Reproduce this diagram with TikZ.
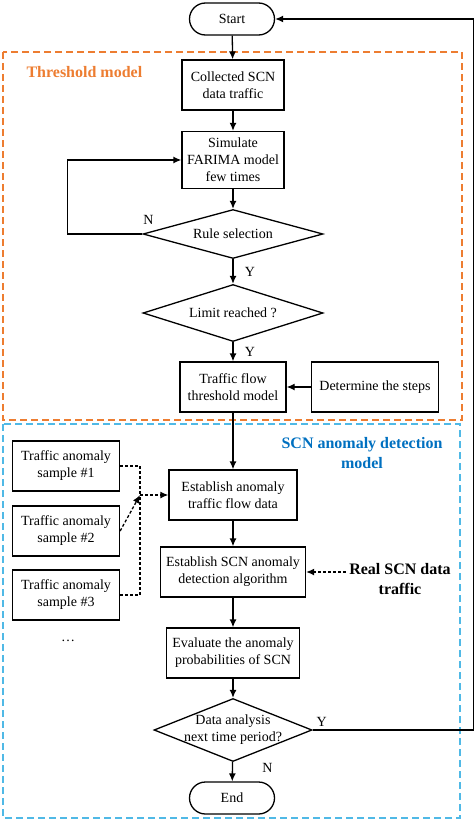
\documentclass[tikz,border=0pt]{standalone}
\usepackage{fontspec}
\setmainfont{Liberation Serif}
\usetikzlibrary{shapes.geometric, arrows.meta}
\definecolor{throrange}{RGB}{237,125,49}
\definecolor{scnblue}{RGB}{0,112,192}
\definecolor{scnframe}{RGB}{80,185,230}

\begin{document}
\begin{tikzpicture}[x=1pt, y=-1pt,
	every node/.style={font=\fontsize{14}{17}\selectfont},
	box/.style={draw, line width=1.3pt, align=center, inner sep=2pt, minimum height=50pt},
	term/.style={draw, line width=1.3pt, rounded corners=16pt, minimum width=85pt, minimum height=32pt},
	decision/.style={draw, diamond, line width=1.3pt, inner sep=0pt},
	flow/.style={line width=1.3pt, -{Latex[length=8pt, width=7pt]}},
	sample/.style={line width=1.3pt, densely dashed}]
	\useasboundingbox (0,0) rectangle (474,824);
	\draw[throrange, line width=1.2pt, dash pattern=on 7pt off 4pt] (3,52) rectangle (462,420);
	\draw[scnframe, line width=1.5pt, dash pattern=on 7pt off 4pt] (3,424) rectangle (460,818);
	\draw (23,72) node[anchor=west, text=throrange, font=\fontsize{16}{20}\selectfont\bfseries](thrlabel) {Threshold model};
	\draw (362,453) node[align=center, text=scnblue, font=\fontsize{16}{20}\selectfont\bfseries](scnlabel) {SCN anomaly detection\\model};
	\draw (232,19) node[term](start) {Start};
	\draw (233,85) node[box, minimum width=102pt](col) {Collected SCN\\data traffic};
	\draw (233,160) node[box, minimum width=102pt, minimum height=57pt](sim) {Simulate\\FARIMA model\\few times};
	\draw (233,234) node[decision, minimum width=180pt, minimum height=49pt, label=center:{Rule selection}](rule) {};
	\draw (233,313) node[decision, minimum width=180pt, minimum height=57pt, label=center:{Limit reached ?}](limit) {};
	\draw (233,387) node[box, minimum width=106pt](thr) {Traffic flow\\threshold model};
	\draw (375,387) node[box, minimum width=127pt](steps) {Determine the steps};
	\draw (66,466) node[box, minimum width=107pt](s1) {Traffic anomaly\\sample \#1};
	\draw (66,531) node[box, minimum width=107pt](s2) {Traffic anomaly\\sample \#2};
	\draw (66,595) node[box, minimum width=107pt](s3) {Traffic anomaly\\sample \#3};
	\draw (68,641) node(more) {…};
	\draw (233,495) node[box, minimum width=128pt](est1) {Establish anomaly\\traffic flow data};
	\draw (233,572) node[box, minimum width=145pt](est2) {Establish SCN anomaly\\detection algorithm};
	\draw (400,579) node[align=center, font=\fontsize{16}{20}\selectfont\bfseries](real) {Real SCN data\\traffic};
	\draw (233,653) node[box, minimum width=133pt](eval) {Evaluate the anomaly\\probabilities of SCN};
	\draw (233,730) node[decision, minimum width=158pt, minimum height=63pt, label={[align=center]center:Data analysis\\next time period?}](data) {};
	\draw (232,798) node[term](end) {End};
	\coordinate (jn) at (140,495);
	\draw[flow] (start) -- (col);
	\draw[flow] (col) -- (sim);
	\draw[flow] (sim) -- (rule);
	\draw[flow] (rule.west) -- node[pos=0, above right, xshift=-3pt, yshift=6pt] {N} ++(-75,0) |- (sim.west);
	\draw[flow] (rule) -- node[right, xshift=8pt] {Y} (limit);
	\draw[flow] (limit) -- node[right, xshift=8pt] {Y} (thr);
	\draw[flow] (steps) -- (thr);
	\draw[flow] (thr) -- (est1);
	\draw[sample] (s1.east) -| (jn);
	\draw[sample, -{Latex[length=8pt, width=7pt]}] (s2.east) -- (jn);
	\draw[sample] (s3.east) -| (jn);
	\draw[sample, -{Latex[length=8pt, width=7pt]}] (jn) -- (est1.west);
	\draw[flow] (est1) -- (est2);
	\draw[sample, -{Latex[length=8pt, width=7pt]}] (real.west |- est2.east) -- (est2.east);
	\draw[flow] (est2) -- (eval);
	\draw[flow] (eval) -- (data);
	\draw[flow] (data) -- node[right, xshift=26pt, yshift=4pt] {N} (end);
	\draw[flow] (data.east) -- node[pos=0, above right] {Y} ++(161,0) |- (start.east);
\end{tikzpicture}
\end{document}
